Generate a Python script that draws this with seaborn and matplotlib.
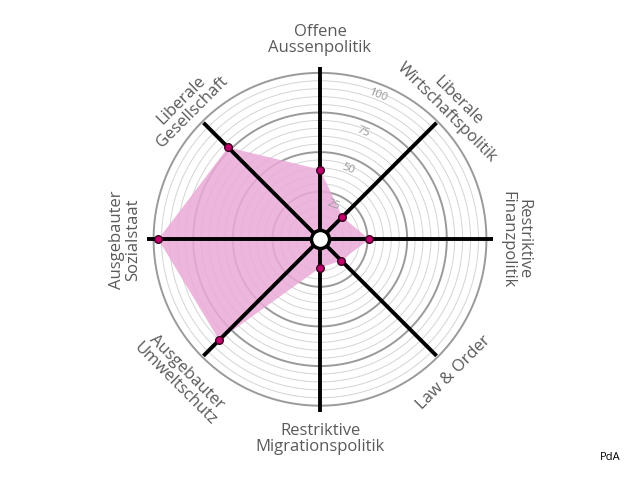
import numpy as np
import pandas as pd
import matplotlib
matplotlib.use("Agg")
import matplotlib.pyplot as plt
import seaborn as sns

categories = ["Offene\nAussenpolitik", "Liberale\nWirtschaftspolitik", "Restriktive\nFinanzpolitik",
              "Law & Order", "Restriktive\nMigrationspolitik", "Ausgebauter\nUmweltschutz",
              "Ausgebauter\nSozialstaat", "Liberale\nGesellschaft"]
values = [39, 15, 26, 14, 13, 85, 97, 77]
tick_values = [25, 50, 75, 100]

sns.set_style("white")
plt.rcParams['font.family'] = ['Open Sans', 'DejaVu Sans']

fig = plt.figure(figsize=(6.4, 4.8), dpi=100)
ax = fig.add_axes([0.225, 0.135, 0.55, 0.733], projection='polar')
ax.set_theta_zero_location('N')
ax.set_theta_direction(-1)
ax.set_ylim(-5, 106)
ax.grid(False)
ax.set_xticks([]); ax.set_yticks([])
ax.spines['polar'].set_visible(False)

th = np.linspace(0, 2*np.pi, 400)
for v in range(5, 101, 5):
    if v % 25 == 0:
        ax.plot(th, np.full_like(th, v), color='#9a9a9a', lw=1.4, zorder=1)
    else:
        ax.plot(th, np.full_like(th, v), color='#d4d4d4', lw=0.7, zorder=1)

n = len(categories)
angles = np.arange(n) * 2*np.pi / n
df = pd.DataFrame({"theta": angles, "value": values})
ang_c = np.append(angles, angles[0]); val_c = np.append(values, values[0])
ax.fill(ang_c, val_c, color='#eaaad8', alpha=0.85, zorder=2, lw=0)

for i, a in enumerate(angles):
    L = 104 if i % 2 == 0 else 99
    ax.plot([a, a], [-5, L], color='black', lw=2.8, zorder=3, solid_capstyle='butt')

sns.scatterplot(data=df, x="theta", y="value", ax=ax, color='#c2006b', edgecolor='#3a0020',
                linewidth=1, s=30, zorder=4, legend=False)
ax.set_xlabel(''); ax.set_ylabel('')
ax.scatter([0], [-5], s=170, color='white', edgecolor='black', linewidth=2.5, zorder=5)

lab_r = [121, 113, 118, 114, 121, 119, 118, 114]
rots = [0, -45, -90, 45, 0, -45, 90, 45]
for a, c, r, rot in zip(angles, categories, lab_r, rots):
    ax.text(a, r, c, ha='center', va='center', rotation=rot, rotation_mode='anchor',
            fontsize=12, color='#5a5a5a', clip_on=False, linespacing=1.0)

for t in tick_values:
    ax.text(np.deg2rad(22), t - 7, str(t), ha='center', va='center', rotation=-22,
            fontsize=8, color='#9a9a9a', zorder=2)

fig.text(610/640, 1-458/480, "PdA", fontsize=8, ha='center', va='center', color='black')
fig.savefig("out.png", dpi=100)
